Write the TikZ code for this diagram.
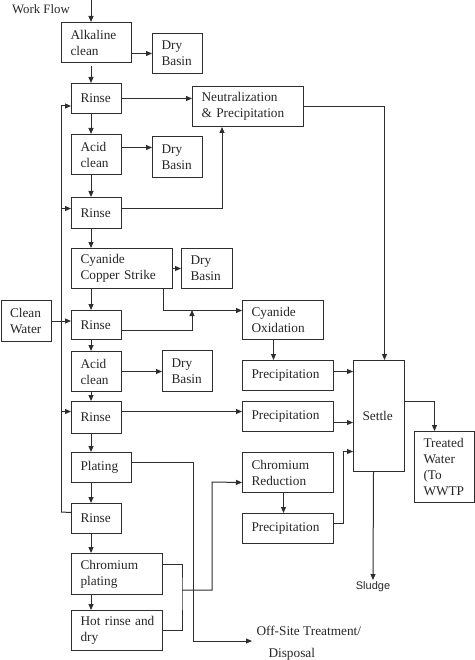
\documentclass[tikz,border=0pt]{standalone}
\usepackage{fontspec}
\setmainfont{Liberation Serif}
\newfontfamily\sansf{Liberation Sans}
\usetikzlibrary{arrows.meta,calc}
\begin{document}
\begin{tikzpicture}[x=1pt,y=-1pt,
  line width=1pt, color=black!82,
  >={Triangle[length=6pt,width=5pt]},
  box/.style={draw=black!82, anchor=north west, align=left, inner xsep=9pt, inner ysep=0pt,
    font=\fontsize{13.3}{16}\selectfont, text=black!85},
  lbl/.style={font=\fontsize{13.3}{16}\selectfont, text=black!85, inner sep=0pt}]
\useasboundingbox (0,0) rectangle (474,660);
\coordinate (sp) at (91,0);
\coordinate (top) at (91,0);
% boxes
\node[box,text width=52pt,minimum height=40pt] (alk) at (61,22) {Alkaline\\clean};
\node[box,text width=32pt,minimum height=40pt] (db1) at (152,33) {Dry\\Basin};
\node[box,text width=32pt,minimum height=30pt] (r1) at (71,83) {Rinse};
\node[box,text width=93pt,minimum height=40pt] (neu) at (192,86) {Neutralization\\\mbox{\& Precipitation}};
\node[box,text width=32pt,minimum height=40pt] (ac1) at (71,134) {Acid\\clean};
\node[box,text width=32pt,minimum height=41pt] (db2) at (152,136) {Dry\\Basin};
\node[box,text width=32pt,minimum height=31pt] (r2) at (71,197) {Rinse};
\node[box,text width=83pt,minimum height=40pt] (ccs) at (71,248) {Cyanide\\\mbox{Copper Strike}};
\node[box,text width=33pt,minimum height=40pt] (db3) at (181,248) {Dry\\Basin};
\node[box,text width=32.5pt,minimum height=41pt] (cw) at (0.5,300) {Clean\\\mbox{Water}};
\node[box,text width=32pt,minimum height=29pt] (r3) at (71,310) {Rinse};
\node[box,text width=63pt,minimum height=39pt] (cox) at (242,300) {Cyanide\\Oxidation};
\node[box,text width=32pt,minimum height=40pt] (ac2) at (71,351) {Acid\\clean};
\node[box,text width=32pt,minimum height=41pt] (db4) at (162,350) {Dry\\Basin};
\node[box,text width=73pt,minimum height=30pt] (pr1) at (242,360) {Precipitation};
\node[box,text width=32pt,minimum height=32pt] (r4) at (71,401) {Rinse};
\node[box,text width=73pt,minimum height=30pt] (pr2) at (242,401) {Precipitation};
\node[box,text width=33pt,minimum height=111pt] (set) at (353,360) {Settle};
\node[box,text width=41.5pt,minimum height=71pt] (tw) at (414,431) {\mbox{Treated}\\Water\\(To\\\mbox{WWTP}};
\node[box,text width=42pt,minimum height=30pt] (pl) at (71,452) {Plating};
\node[box,text width=73pt,minimum height=40pt] (cr) at (242,452) {Chromium\\Reduction};
\node[box,text width=32pt,minimum height=30pt] (r5) at (71,503) {Rinse};
\node[box,text width=73pt,minimum height=30pt] (pr3) at (242,513) {Precipitation};
\node[box,text width=73pt,minimum height=41pt] (cp) at (71,553) {Chromium\\plating};
\node[box,text width=73pt,minimum height=40pt] (hr) at (71,610) {\mbox{Hot rinse and}\\dry};
% free labels
\node[lbl,font=\fontsize{12.8}{15}\selectfont] (wf) at (41,9) {Work Flow};
\node[lbl,font=\sansf\fontsize{11}{13}\selectfont,anchor=north,inner sep=1pt] (sl) at (373,580) {Sludge};
\node[lbl,anchor=west,inner xsep=4pt] (off1) at (252,631) {Off-Site Treatment/};
\node[lbl,anchor=west] (off2) at (268,654) {Disposal};
% coordinates
\coordinate (bt) at (61,106);
\coordinate (bb) at (61,512);
\coordinate (nx) at ($(neu.south west)+(30,0)$);
\coordinate (cj) at ($(cox.west)+(0,-9.5)$);
\coordinate (j3) at (192,310);
\coordinate (a2w) at ($(r2.west)+(0,-4.5)$);
\coordinate (a4) at ($(r4.west)+(0,-6)$);
\coordinate (s3) at ($(set.west)+(0,35.5)$);
\coordinate (ob) at (193,641);
\coordinate (cx) at (182,590);
\coordinate (cy) at (212,482);
\coordinate (cj2) at ($(cr.west)+(0,10)$);
% main chain
\draw[->] (top) -- (alk.north -| sp);
\draw[->] ($(alk.south -| sp)+(0,3)$) -- (r1.north -| sp);
\draw[->] (r1.south -| sp) -- (ac1.north -| sp);
\draw[->] (ac1.south -| sp) -- (r2.north -| sp);
\draw[->] (r2.south -| sp) -- (ccs.north -| sp);
\draw[->] (ccs.south -| sp) -- (r3.north -| sp);
\draw[->] (r3.south -| sp) -- (ac2.north -| sp);
\draw[->] (ac2.south -| sp) -- (r4.north -| sp);
\draw[->] (r4.south -| sp) -- (pl.north -| sp);
\draw[->] (pl.south -| sp) -- (r5.north -| sp);
\draw[->] (r5.south -| sp) -- (cp.north -| sp);
\draw[->] (cp.south -| sp) -- (hr.north -| sp);
% dry basins
\draw[->] (alk.east |- db1.west) -- (db1.west);
\draw[->] ($(ac1.east)+(0,-7)$) coordinate (a1) -- (a1 -| db2.west);
\draw[->] (ccs.east) -- (db3.west);
\draw[->] (ac2.east) -- (ac2.east -| db4.west);
% clean water bus
\draw (bt) -- (bb);
\draw[->] (bt) -- (bt -| r1.west);
\draw[->] (a2w -| bb) -- (a2w);
\draw[->] (cw.east) -- (cw.east -| r3.west);
\draw[->] (a4 -| bb) -- (a4);
\draw ($(r5.west)+(0,-6)$) -- (bb);
% to neutralization
\draw[->] (r1.east) -- (r1.east -| neu.west);
\draw[->] ($(r2.east)+(0,-4.5)$) -| (nx);
\draw[->] (neu.east) -| ($(set.north)+(5.5,0)$);
% cyanide
\draw[->] ($(ccs.south east)+(-10,0)$) |- (cj);
\draw[->] ($(r3.east)+(0,5)$) -| (j3);
\draw[->] ($(cox.south)+(-9.5,0)$) coordinate (c5) -- (c5 |- pr1.north);
\draw[->] ($(pr1.east)+(0,-4)$) coordinate (p1) -- (p1 -| set.west);
% rinse 4 precipitation
\draw[->] (a4 -| r4.east) -- (a4 -| pr2.west);
\draw[->] ($(pr2.east)+(0,6)$) coordinate (p2) -- (p2 -| set.west);
% settle outputs
\draw[->] ($(set.east)+(0,-14.5)$) -| ($(tw.north)+(-9.75,0)$);
\draw[->] ($(set.south)+(-5.5,0)$) -- (sl.north);
% plating to off-site
\draw[->] ($(pl.east)+(0,-5)$) -| (ob) -- (ob -| off1.west);
% chromium
\draw ($(cp.east)+(0,-9.5)$) -| (cx) |- (hr.east);
\draw[->] (cx) -| (cy) -- (cj2);
\draw[->] ($(cr.south)+(-4.5,0)$) coordinate (c6) -- (c6 |- pr3.north);
\draw[->] ($(pr3.east)+(0,-5)$) -| ($(s3)+(-10,0)$) -- (s3);
\end{tikzpicture}
\end{document}
